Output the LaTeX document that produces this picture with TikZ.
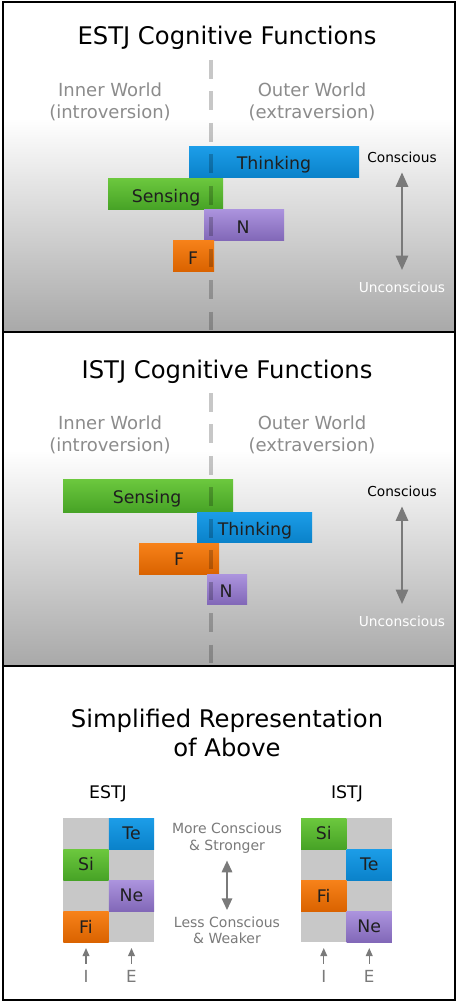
\documentclass[tikz,border=0pt]{standalone}
\usepackage{fontspec}
\setmainfont{DejaVu Sans}
\usetikzlibrary{arrows.meta}

\definecolor{blueT}{HTML}{1C9DE8}
\definecolor{blueB}{HTML}{0A82CA}
\definecolor{greenT}{HTML}{6CC83E}
\definecolor{greenB}{HTML}{47A326}
\definecolor{purpleT}{HTML}{AC94DE}
\definecolor{purpleB}{HTML}{8268B8}
\definecolor{orangeT}{HTML}{F7821A}
\definecolor{orangeB}{HTML}{DA6300}
\definecolor{cellgray}{HTML}{C8C8C8}
\definecolor{wordgray}{HTML}{8C8C8C}
\definecolor{arrowgray}{HTML}{7A7A7A}

\begin{document}
\begin{tikzpicture}[x=0.75pt,y=-0.75pt,
  heading/.style={anchor=base, font=\fontsize{18.2}{21}\selectfont},
  world/.style={anchor=base, text=wordgray, font=\fontsize{13.5}{16}\selectfont},
  barlabel/.style={anchor=base, text=black!88, font=\fontsize{13}{15}\selectfont},
  conlabel/.style={anchor=base, font=\fontsize{10.3}{12}\selectfont},
  midlabel/.style={anchor=base, text=arrowgray, font=\fontsize{10.5}{12}\selectfont},
  typelabel/.style={anchor=base, font=\fontsize{13}{15}\selectfont},
  cell/.style={minimum width=34.1pt, minimum height=23.25pt, inner sep=0pt,
    text=black!88, font=\fontsize{13}{15}\selectfont},
  ielabel/.style={anchor=base, text=arrowgray, font=\fontsize{12.5}{14}\selectfont},
  updown/.style={draw=arrowgray, line width=2.2pt,
    {Triangle[width=9pt,length=11pt]}-{Triangle[width=9pt,length=11pt]}},
  updownsmall/.style={draw=arrowgray, line width=2.2pt,
    {Triangle[width=7.5pt,length=9pt]}-{Triangle[width=7.5pt,length=9pt]}},
  smallup/.style={draw=arrowgray, line width=1.1pt, -{Triangle[width=5pt,length=6pt]}},
  midline/.style={black, opacity=0.22, line width=3pt, dash pattern=on 14pt off 9.6pt}]

\useasboundingbox (0,0) rectangle (456,1002);
\fill[white] (0,0) rectangle (456,1002);

% ESTJ panel
\shade[top color=white, bottom color=black!34] (3,118) rectangle (455,332);

\node[heading] (titleA) at (227,45) {ESTJ Cognitive Functions};
\node[world] (innerA) at (110,97) {Inner World};
\node[world] (introA) at (110,119) {(introversion)};
\node[world] (outerA) at (312,97) {Outer World};
\node[world] (extraA) at (312,119) {(extraversion)};

\shade[top color=blueT, bottom color=blueB] (189,147) rectangle (359,177);
\shade[top color=greenT, bottom color=greenB] (108,178) rectangle (223,209);
\shade[top color=purpleT, bottom color=purpleB] (204,209) rectangle (284,240);
\shade[top color=orangeT, bottom color=orangeB] (173,240) rectangle (214,271);
\node[barlabel] (thinkA) at (274,170) {Thinking};
\node[barlabel] (senseA) at (166,202) {Sensing};
\node[barlabel] (intuA) at (243,233) {N};
\node[barlabel] (feelA) at (193,264) {F};

\draw[midline] (211,60) -- (211,331);

\node[conlabel] (conA) at (402,162) {Conscious};
\node[conlabel, text=white] (unconA) at (402,292) {Unconscious};
\draw[updown] ([yshift=-4pt]conA.south) -- ([yshift=5pt]unconA.north);

% ISTJ panel
\shade[top color=white, bottom color=black!34] (3,450) rectangle (455,666);

\node[heading] (titleB) at (227,378) {ISTJ Cognitive Functions};
\node[world] (innerB) at (110,429) {Inner World};
\node[world] (introB) at (110,451) {(introversion)};
\node[world] (outerB) at (312,429) {Outer World};
\node[world] (extraB) at (312,451) {(extraversion)};

\shade[top color=greenT, bottom color=greenB] (63,479) rectangle (233,512);
\shade[top color=blueT, bottom color=blueB] (197,512) rectangle (312,542);
\shade[top color=orangeT, bottom color=orangeB] (139,543) rectangle (219,574);
\shade[top color=purpleT, bottom color=purpleB] (207,574) rectangle (247,604);
\node[barlabel] (senseB) at (147,503) {Sensing};
\node[barlabel] (thinkB) at (255,535) {Thinking};
\node[barlabel] (feelB) at (179,565) {F};
\node[barlabel] (intuB) at (226,597) {N};

\draw[midline] (211,393) -- (211,665);

\node[conlabel] (conB) at (402,496) {Conscious};
\node[conlabel, text=white] (unconB) at (402,626) {Unconscious};
\draw[updown] ([yshift=-4pt]conB.south) -- ([yshift=5pt]unconB.north);

% simplified panel
\node[heading] (titleC) at (227,727) {Simplified Representation};
\node[heading] (titleD) at (227,756) {of Above};

\node[typelabel] (estj) at (108,798) {ESTJ};
\node[typelabel] (istj) at (347,798) {ISTJ};

\fill[cellgray] (63,818) rectangle (154,942);
\node[cell, top color=blueT, bottom color=blueB] (teA) at (131.5,833.5) {Te};
\node[cell, top color=greenT, bottom color=greenB] (siA) at (86,864.5) {Si};
\node[cell, top color=purpleT, bottom color=purpleB] (neA) at (131.5,895.5) {Ne};
\node[cell, top color=orangeT, bottom color=orangeB] (fiA) at (86,926.5) {Fi};

\fill[cellgray] (301,818) rectangle (392,942);
\node[cell, top color=greenT, bottom color=greenB] (siB) at (323.75,833.5) {Si};
\node[cell, top color=blueT, bottom color=blueB] (teB) at (369.25,864.5) {Te};
\node[cell, top color=orangeT, bottom color=orangeB] (fiB) at (323.75,895.5) {Fi};
\node[cell, top color=purpleT, bottom color=purpleB] (neB) at (369.25,926.5) {Ne};

\node[midlabel] (moreC) at (227,833) {More Conscious};
\node[midlabel] (strong) at (227,850) {\& Stronger};
\node[midlabel] (lessC) at (227,927) {Less Conscious};
\node[midlabel] (weak) at (227,943) {\& Weaker};
\draw[updownsmall] ([yshift=-2pt]strong.south) -- ([yshift=1pt]lessC.north);

\coordinate (gridIA) at (86,948);
\coordinate (gridEA) at (131.5,948);
\coordinate (gridIB) at (323.75,948);
\coordinate (gridEB) at (369.25,948);
\node[ielabel] (iA) at (86,982) {I};
\node[ielabel] (eA) at (131.5,982) {E};
\node[ielabel] (iB) at (323.75,982) {I};
\node[ielabel] (eB) at (369.25,982) {E};
\draw[smallup] ([yshift=1pt]iA.north) -- (gridIA);
\draw[smallup] ([yshift=1pt]eA.north) -- (gridEA);
\draw[smallup] ([yshift=1pt]iB.north) -- (gridIB);
\draw[smallup] ([yshift=1pt]eB.north) -- (gridEB);

% frame
\draw[line width=1.5pt] (3,2) rectangle (455,1000);
\draw[line width=1.5pt] (3,332) -- (455,332);
\draw[line width=1.5pt] (3,666) -- (455,666);
\end{tikzpicture}
\end{document}
